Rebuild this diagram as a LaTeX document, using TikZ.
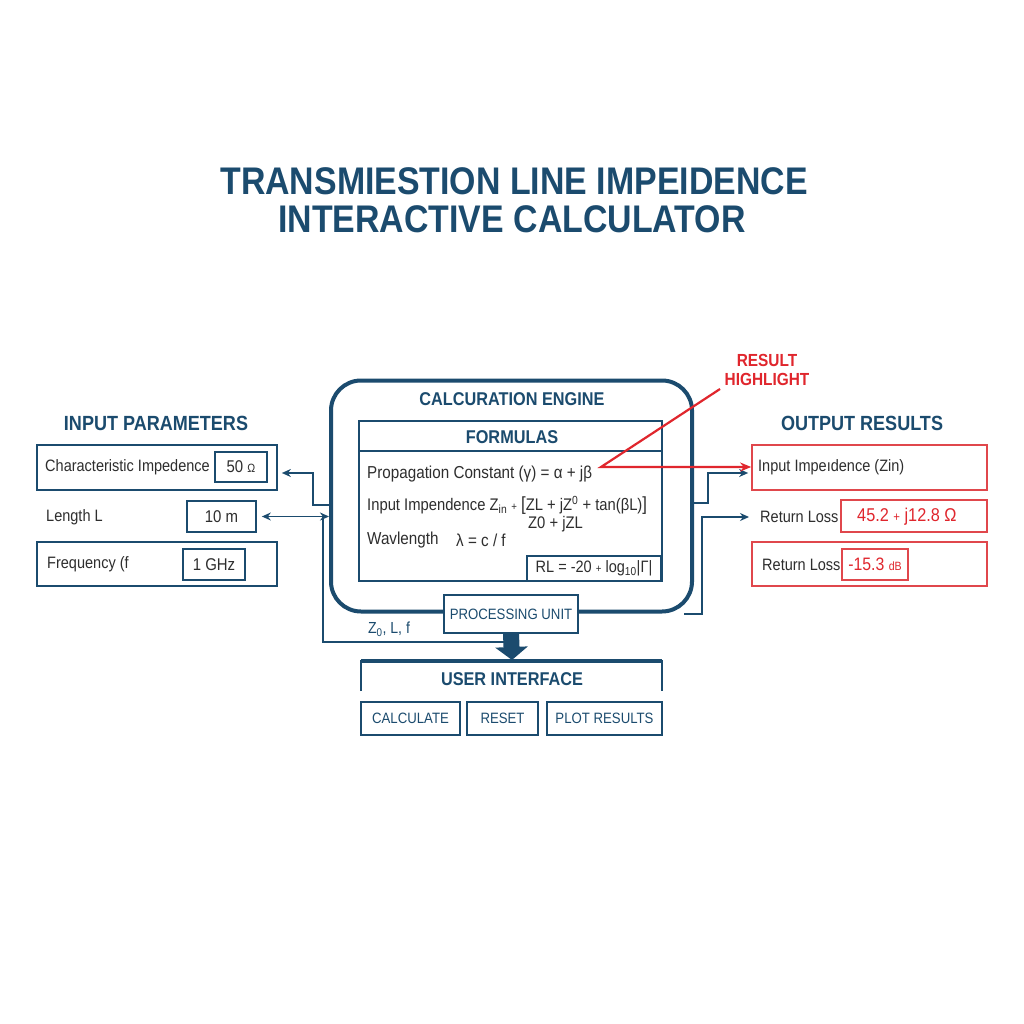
\documentclass[tikz,border=0pt]{standalone}
\usepackage{fontspec}
\setmainfont[FakeStretch=0.88]{Liberation Sans}
\usetikzlibrary{arrows.meta}
\definecolor{dblue}{HTML}{1B4B6E}
\definecolor{hred}{HTML}{E0262D}
\definecolor{rbord}{HTML}{E0474C}
\definecolor{txt}{HTML}{2E2E2E}
\newcommand{\fsz}[1]{\fontsize{#1}{#1}\selectfont}
\begin{document}
\begin{tikzpicture}[x=1pt,y=-1pt,
  box/.style={draw=dblue, line width=1.7pt, inner sep=0pt, text=txt, font=\fsz{17}},
  rbox/.style={draw=rbord, line width=1.7pt, inner sep=0pt},
  lbl/.style={font=\fsz{16.5}, text=txt, anchor=west, inner sep=0pt},
  flbl/.style={font=\fsz{17.3}, text=txt, anchor=west, inner sep=0pt},
  head/.style={font=\bfseries\fsz{20.5}, text=dblue, inner sep=0pt},
  btn/.style={draw=dblue, line width=1.7pt, inner sep=0pt, text=dblue, font=\fsz{15}, minimum height=33},
  conn/.style={draw=dblue, line width=1.5pt},
  tipa/.style={-{Stealth[length=9pt,width=8pt]}},
  tipb/.style={{Stealth[length=9pt,width=8pt]}-{Stealth[length=9pt,width=8pt]}}
]
\useasboundingbox[fill=white] (0,0) rectangle (1024,1024);

% title
\node[font=\bfseries\fsz{38.5}, text=dblue, inner sep=0pt] (t1) at (514,181) {TRANSMIESTION LINE IMPEIDENCE};
\node[font=\bfseries\fsz{38.5}, text=dblue, inner sep=0pt] (t2) at (512,219) {INTERACTIVE CALCULATOR};

% input parameters
\node[head] (inh) at (156,423) {INPUT PARAMETERS};
\node[box, minimum width=240, minimum height=45] (in1) at (157,467.5) {};
\node[lbl] (l1) at (45,467) {Characteristic Impedence};
\node[box, minimum width=52, minimum height=30] (v1) at (241,467) {50 {\fsz{12}Ω}};
\node[lbl] (l2) at (46,517) {Length L};
\node[box, minimum width=69, minimum height=31] (v2) at (221.5,516.5) {10 m};
\node[box, minimum width=240, minimum height=44] (in3) at (157,564) {};
\node[lbl] (l3) at (47,564.5) {Frequency (f};
\node[box, minimum width=62, minimum height=31] (v3) at (214,564.5) {1 GHz};

% engine
\node[draw=dblue, line width=4pt, rounded corners=30pt, minimum width=361, minimum height=231, inner sep=0pt] (eng) at (511.5,496) {};
\node[head, font=\bfseries\fsz{18.5}] (engh) at (512,399) {CALCURATION ENGINE};
\node[draw=dblue, line width=1.2pt, minimum width=303, minimum height=160, inner sep=0pt] (form) at (510.5,501) {};
\draw[dblue, line width=1.2pt] (form.west |- 0,451) -- (form.east |- 0,451);
\node[head, font=\bfseries\fsz{18.5}] (formh) at (512,437) {FORMULAS};
\node[flbl] (f1) at (367,474) {Propagation Constant (γ) = α + jβ};
\node[flbl, font=\fsz{16.8}] (f2) at (367,505.5) {Input Impendence Z\textsubscript{in} {\fsz{11}+} {\fsz{19}[}ZL + jZ\textsuperscript{0} + tan(βL){\fsz{19}]}};
\node[flbl, font=\fsz{16.8}] (f2b) at (528,524.5) {Z0 + jZL};
\node[flbl] (f3) at (367,540) {Wavlength};
\node[flbl] (f3b) at (456,540) {λ = c / f};
\node[draw=dblue, line width=1.2pt, minimum width=134, minimum height=25, inner sep=0pt, font=\fsz{16.5}, text=txt] (rl) at (594,568.5) {RL = -20 {\fsz{11}+} log\textsubscript{10}|Γ|};

% processing unit
\node[draw=dblue, line width=1.5pt, fill=white, minimum width=134, minimum height=38, inner sep=0pt, font=\fsz{15}, text=dblue] (pu) at (511,614) {PROCESSING UNIT};
\node[font=\fsz{16}, text=dblue, inner sep=0pt] (zlf) at (389,629) {Z\textsubscript{0}, L, f};

% user interface
\coordinate (uitop) at (512,660);
\draw[dblue, line width=1.5pt] (361,691) -- (361,661) -- (662,661) -- (662,691);
\draw[dblue, line width=4pt] (361,661) -- (662,661);
\node[head, font=\bfseries\fsz{18.5}] (uih) at (512,679) {USER INTERFACE};
\node[btn, minimum width=99] (b1) at (410.5,718.5) {CALCULATE};
\node[btn, minimum width=71] (b2) at (502.5,718.5) {RESET};
\node[btn, minimum width=115] (b3) at (604.5,718.5) {PLOT RESULTS};

% output results
\node[head] (outh) at (862,423) {OUTPUT RESULTS};
\node[rbox, minimum width=235, minimum height=45] (o1) at (869.5,467.5) {};
\node[lbl] (ol1) at (758,467) {Input Impeıdence (Zin)};
\node[lbl] (ol2) at (760,517) {Return Loss};
\node[rbox, minimum width=146, minimum height=32] (ov2) at (914,516) {};
\node[text=hred, font=\fsz{18.5}, anchor=west, inner sep=0pt] (ov2t) at (857,517) {45.2 {\fsz{13}+} j12.8 Ω};
\node[rbox, minimum width=235, minimum height=44] (o3) at (869.5,564) {};
\node[lbl] (ol3) at (762,564.5) {Return Loss};
\node[rbox, minimum width=66, minimum height=31, text=hred, font=\fsz{18}] (ov3) at (875,564.5) {-15.3 {\fsz{12}dB}};

% result highlight
\node[font=\bfseries\fsz{17.5}, text=hred, align=center, inner sep=0pt] (rh) at (767,370) {RESULT\\[2pt]HIGHLIGHT};
\coordinate (rhs) at (720,389);
\coordinate (rp) at (601,467);

% connectors
\draw[conn, tipa, shorten >=4pt] (eng.west |- 0,505) -- (313,505) -- (313,473) -- (in1.east |- 0,473);
\draw[conn, tipb, shorten <=5pt] (v2.east) -- (eng.west |- v2.east);
\draw[conn] (323,516.5) -- (323,642) -- (pu.south |- 0,642);
\draw[conn, tipa, shorten >=3pt] (eng.east |- 0,503) -- (708,503) -- (708,473) -- (o1.west |- 0,473);
\draw[conn, tipa] (684,614) -- (702,614) -- (702,517) -- (749,517);
\draw[hred, line width=2.2pt, -{Stealth[length=11pt,width=9pt]}] (rhs) -- (rp) -- (o1.west |- rp);
\draw[dblue, line width=16pt, -{Triangle[length=13pt,width=32pt]}] (pu.south) -- (uitop);
\end{tikzpicture}
\end{document}
